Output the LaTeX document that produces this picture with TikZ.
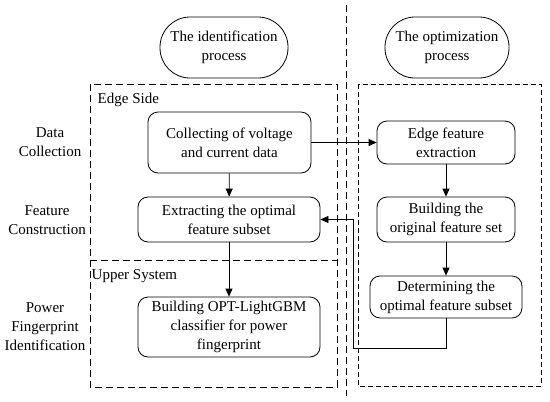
\documentclass[tikz,border=0pt]{standalone}
\usepackage{fontspec}
\setmainfont{Liberation Serif}
\usetikzlibrary{arrows.meta,positioning}

\begin{document}
\begin{tikzpicture}[x=1pt,y=-1pt,line width=0.8pt,
  every node/.style={font=\fontsize{15}{19}\selectfont},
  proc/.style={draw,rounded corners=10pt,align=center,inner sep=2pt},
  term/.style={draw,rounded corners=30pt,align=center,minimum height=61pt},
  flow/.style={-{Triangle[length=8pt,width=7pt]}},
  bigdash/.style={dash pattern=on 7pt off 4pt},
  smalldash/.style={dash pattern=on 5pt off 3pt}]
  \useasboundingbox (0,0) rectangle (550,402);
  % dashed frames
  \draw[bigdash] (90,84) rectangle (337,387);
  \draw[bigdash] (90,260) -- (337,260);
  \draw[smalldash] (358,84) rectangle (541,386);
  \draw[bigdash] (346,5) -- (346,396);
  % headers
  \node[term,minimum width=128pt] (ident) at (224,47.5) {The identification\\process};
  \node[term,minimum width=124pt] (optim) at (447,47.5) {The optimization\\process};
  \node[anchor=west] (edgeside) at (94,100) {Edge Side};
  \node[anchor=west] (upper) at (88,276) {Upper System};
  % stage labels
  \node[align=center] (datacol) at (50,142) {Data\\Collection};
  \node[align=center] (featcon) at (47,220) {Feature\\Construction};
  \node[align=center] (powerid) at (45,327) {Power\\Fingerprint\\Identification};
  % identification steps
  \node[proc,minimum width=163pt,minimum height=61pt] (collect) at (229.5,142.5) {Collecting of voltage\\and current data};
  \node[proc,minimum width=182pt,minimum height=45pt] (extract) at (229,219.5) {Extracting the optimal\\feature subset};
  \node[proc,minimum width=182pt,minimum height=60pt] (classify) at (229,327) {Building OPT-LightGBM\\classifier for power\\fingerprint};
  % optimization steps
  \node[proc,minimum width=138pt,minimum height=43pt] (edgefeat) at (446,142.5) {Edge feature\\extraction};
  \node[proc,minimum width=138pt,minimum height=45pt] (origset) at (446,219.5) {Building the\\original feature set};
  \node[proc,minimum width=152pt,minimum height=42pt] (determine) at (446,297) {Determining the\\optimal feature subset};
  \coordinate (loop) at (353,348);
  % connectors
  \draw[flow] (collect) -- (edgefeat);
  \draw[flow] (collect) -- (extract);
  \draw[flow] (extract) -- (classify);
  \draw[flow] (edgefeat) -- (origset);
  \draw[flow] (origset) -- (determine);
  \draw[flow] (determine.south) |- (loop) |- (extract.east);
\end{tikzpicture}
\end{document}
